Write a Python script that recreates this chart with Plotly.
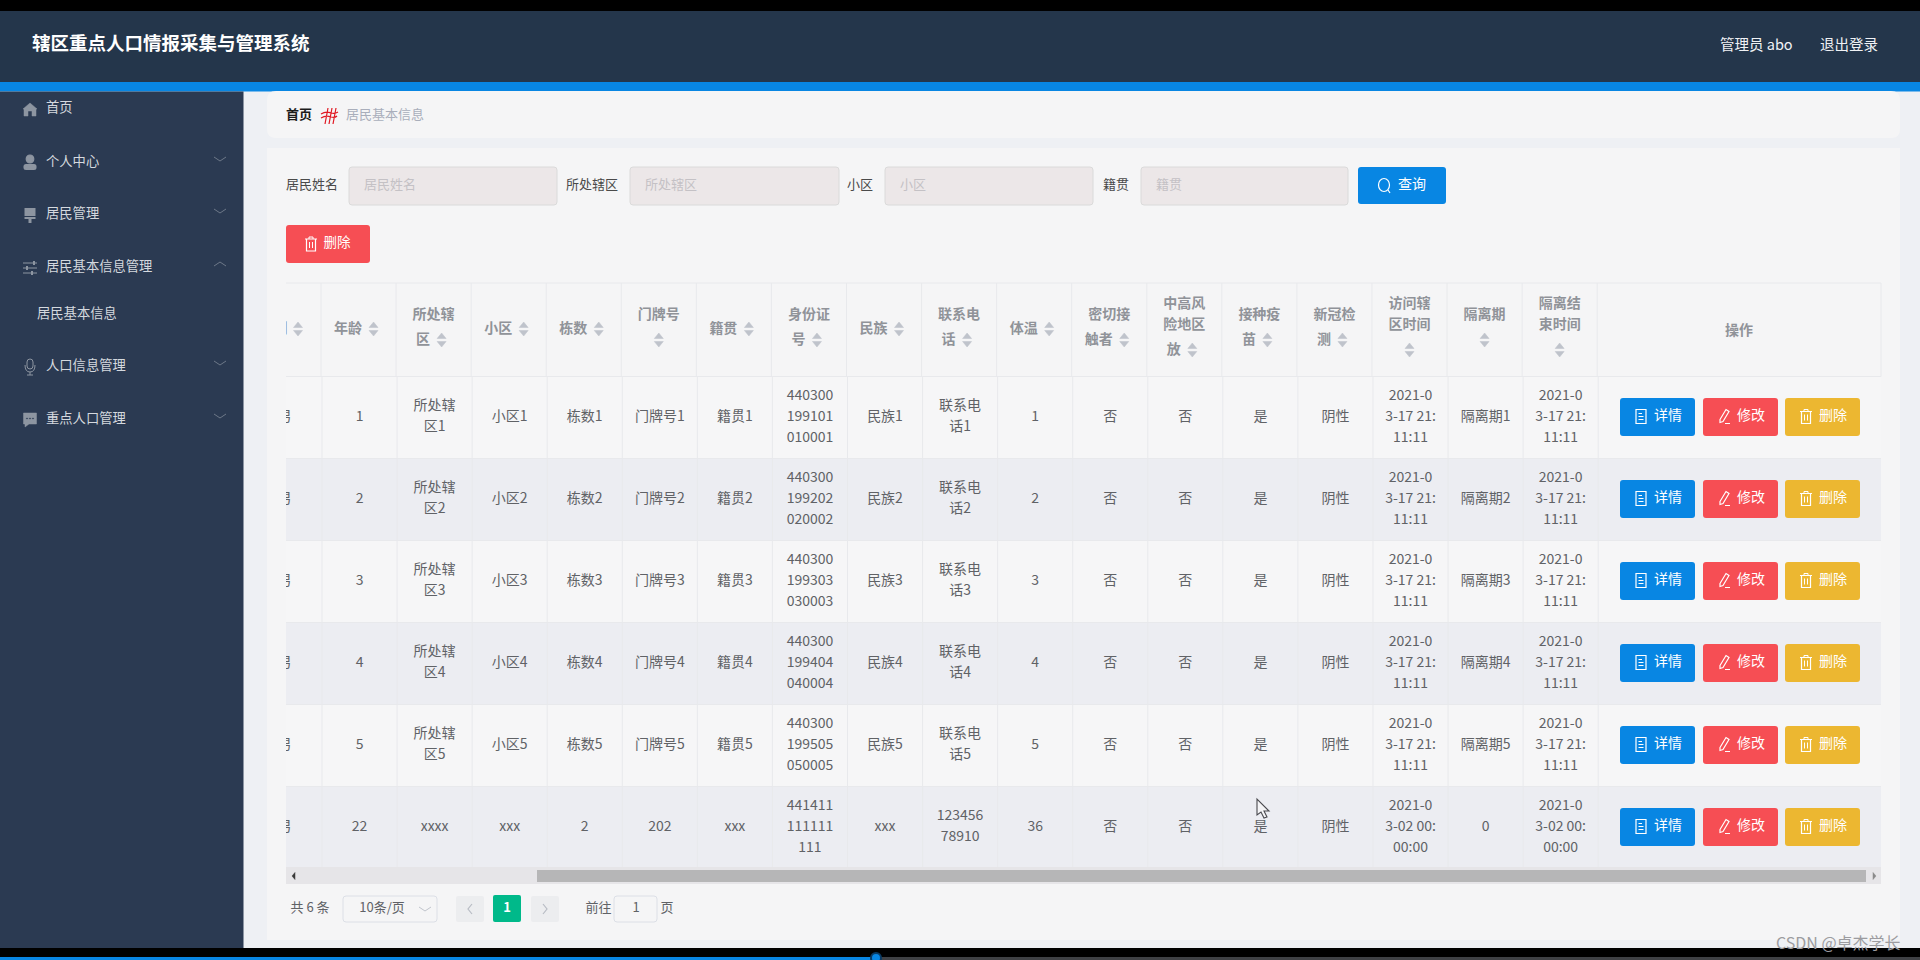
import plotly.graph_objects as go

# page text
app_title = "辖区重点人口情报采集与管理系统"
user_label = "管理员 abo"
logout_label = "退出登录"
nav_items = ["首页", "个人中心", "居民管理", "居民基本信息管理", "居民基本信息", "人口信息管理", "重点人口管理"]
nav_y = [109, 163, 215, 268, 315, 367, 420]
search_labels = ["居民姓名", "所处辖区", "小区", "籍贯"]

# table columns
table_headers = [
    ["年龄"], ["所处辖", "区"], ["小区"], ["栋数"], ["门牌号"], ["籍贯"], ["身份证", "号"], ["民族"],
    ["联系电", "话"], ["体温"], ["密切接", "触者"], ["中高风", "险地区", "放"], ["接种疫", "苗"],
    ["新冠检", "测"], ["访问辖", "区时间"], ["隔离期"], ["隔离结", "束时间"],
]
genders = ["男", "男", "男", "男", "男", "男"]
ages = ["1", "2", "3", "4", "5", "22"]
districts = ["所处辖\n区1", "所处辖\n区2", "所处辖\n区3", "所处辖\n区4", "所处辖\n区5", "xxxx"]
communities = ["小区1", "小区2", "小区3", "小区4", "小区5", "xxx"]
buildings = ["栋数1", "栋数2", "栋数3", "栋数4", "栋数5", "2"]
doors = ["门牌号1", "门牌号2", "门牌号3", "门牌号4", "门牌号5", "202"]
origins = ["籍贯1", "籍贯2", "籍贯3", "籍贯4", "籍贯5", "xxx"]
id_numbers = ["440300\n199101\n010001", "440300\n199202\n020002", "440300\n199303\n030003",
              "440300\n199404\n040004", "440300\n199505\n050005", "441411\n111111\n111"]
nations = ["民族1", "民族2", "民族3", "民族4", "民族5", "xxx"]
phones = ["联系电\n话1", "联系电\n话2", "联系电\n话3", "联系电\n话4", "联系电\n话5", "123456\n78910"]
temperatures = ["1", "2", "3", "4", "5", "36"]
contacts = ["否", "否", "否", "否", "否", "否"]
risks = ["否", "否", "否", "否", "否", "否"]
vaccines = ["是", "是", "是", "是", "是", "是"]
tests = ["阴性", "阴性", "阴性", "阴性", "阴性", "阴性"]
visit_times = ["2021-0\n3-17 21:\n11:11"] * 5 + ["2021-0\n3-02 00:\n00:00"]
quarantine = ["隔离期1", "隔离期2", "隔离期3", "隔离期4", "隔离期5", "0"]
end_times = ["2021-0\n3-17 21:\n11:11"] * 5 + ["2021-0\n3-02 00:\n00:00"]
columns = [ages, districts, communities, buildings, doors, origins, id_numbers, nations, phones,
           temperatures, contacts, risks, vaccines, tests, visit_times, quarantine, end_times]

FONT = "Noto Sans CJK SC"
BLUE = "#0886e3"
RED = "#f64e54"
YELLOW = "#ecb731"
CARD = "#f5f5f6"
PAGE = "#eef0f4"
STRIPE = "#ecedf2"
LINE = "#e8e9ec"
NAV_ICON = "#8d95a1"

shapes = []
texts = {}


def rect(x0, y0, x1, y1, fill, layer="below"):
    shapes.append(dict(type="rect", x0=x0, y0=y0, x1=x1, y1=y1, fillcolor=fill, line_width=0, layer=layer))


def round_rect(x0, y0, x1, y1, r, fill, border=None):
    p = (f"M{x0+r},{y0} L{x1-r},{y0} Q{x1},{y0} {x1},{y0+r} L{x1},{y1-r} Q{x1},{y1} {x1-r},{y1} "
         f"L{x0+r},{y1} Q{x0},{y1} {x0},{y1-r} L{x0},{y0+r} Q{x0},{y0} {x0+r},{y0} Z")
    shapes.append(dict(type="path", path=p, fillcolor=fill, layer="below",
                       line=dict(color=border or fill, width=1 if border else 0)))


def stroke(path, color, width=1.2, fill=None, layer="below"):
    shapes.append(dict(type="path", path=path, line=dict(color=color, width=width),
                       fillcolor=fill or "rgba(0,0,0,0)", layer=layer))


def oval(cx, cy, rx, ry, color, fill=None, width=1.2):
    shapes.append(dict(type="circle", x0=cx-rx, x1=cx+rx, y0=cy-ry, y1=cy+ry, layer="below",
                       line=dict(color=color, width=width), fillcolor=fill or "rgba(0,0,0,0)"))


def label(x, y, s, size=14, color="#606266", bold=False, anchor="middle center"):
    key = (size, color, bold, anchor)
    bucket = texts.setdefault(key, ([], [], []))
    bucket[0].append(x)
    bucket[1].append(y)
    bucket[2].append(s)


def chevron(x, y, color, up=False):
    d = -3 if up else 3
    stroke(f"M{x-6},{y-d/1.5} L{x},{y+d/1.5} L{x+6},{y-d/1.5}", color, 1)


def doc_icon(x, y, c="#ffffff"):
    stroke(f"M{x-5},{y-7} L{x+5},{y-7} L{x+5},{y+7} L{x-5},{y+7} Z", c)
    stroke(f"M{x-2.5},{y-3} L{x+1},{y-3} M{x-2.5},{y} L{x+2.5},{y} M{x-2.5},{y+3} L{x+2.5},{y+3}", c, 1)


def pen_icon(x, y, c="#ffffff"):
    stroke(f"M{x-4},{y+3} L{x+2},{y-7} L{x+5},{y-5} L{x-1},{y+5} L{x-4},{y+6} Z", c)
    stroke(f"M{x+1},{y+7} L{x+6},{y+7}", c, 1)


def trash_icon(x, y, c="#ffffff"):
    stroke(f"M{x-6},{y-5} L{x+6},{y-5} M{x-2},{y-5} L{x-2},{y-7} L{x+2},{y-7} L{x+2},{y-5}", c, 1)
    stroke(f"M{x-4.5},{y-5} L{x-4.5},{y+7} L{x+4.5},{y+7} L{x+4.5},{y-5}", c)
    stroke(f"M{x-1.5},{y-2} L{x-1.5},{y+4} M{x+1.5},{y-2} L{x+1.5},{y+4}", c, 1)


def sort_caret(x, y):
    c = "#bfc3cb"
    stroke(f"M{x},{y-7} L{x+4.5},{y-1.5} L{x-4.5},{y-1.5} Z", c, 0.5, c)
    stroke(f"M{x},{y+7} L{x+4.5},{y+1.5} L{x-4.5},{y+1.5} Z", c, 0.5, c)


# page frame
rect(0, 0, 1920, 960, PAGE)
rect(0, 0, 1920, 11, "#000000")
rect(0, 11, 1920, 82, "#24364b")
rect(0, 82, 1920, 91.5, BLUE)
rect(0, 91.5, 243.5, 948, "#2b3a52")
round_rect(267, 91, 1900, 138, 9, CARD)
rect(267, 148, 1900, 940, CARD)
rect(0, 948, 1920, 960, "#000000")
rect(0, 957, 876, 960, BLUE)
rect(876, 957, 1920, 960, "#3f4145")
oval(876, 958, 5, 5, "#0a3a63", BLUE, 2)

label(32, 45, f"<b>{app_title}</b>", 18.5, "#ffffff", anchor="middle right")
label(1720, 46, user_label, 14.5, "#f0f2f5", anchor="middle right")
label(1820, 46, logout_label, 14.5, "#f0f2f5", anchor="middle right")

# sidebar
for i, (item, y) in enumerate(zip(nav_items, nav_y)):
    label(37 if i == 4 else 46, y, item, 13.3, "#d5d9df", anchor="middle right")
    if i not in (0, 4):
        chevron(220, y - 4, "#6d7888", up=i == 3)
x = 30
y = nav_y[0] + 1
stroke(f"M{x-7},{y-1} L{x},{y-7} L{x+7},{y-1} L{x+6},{y-1} L{x+6},{y+6} L{x+2},{y+6} L{x+2},{y+1} "
       f"L{x-2},{y+1} L{x-2},{y+6} L{x-6},{y+6} L{x-6},{y-1} Z", NAV_ICON, 0.5, NAV_ICON)
y = nav_y[1] - 1
oval(x, y-3, 3.8, 4, NAV_ICON, NAV_ICON)
round_rect(x-6.5, y+2, x+6.5, y+8, 2.5, NAV_ICON)
y = nav_y[2]
rect(x-5.5, y-7, x+5.5, y+1, NAV_ICON)
rect(x-5.5, y+2, x+5.5, y+4, NAV_ICON)
rect(x-1.5, y+4, x+1.5, y+8, NAV_ICON)
y = nav_y[3]
for dy, kx in [(-5, 4), (0, -3), (5, 2)]:
    stroke(f"M{x-7},{y+dy} L{x+7},{y+dy}", NAV_ICON, 1)
    rect(x+kx-1, y+dy-2, x+kx+1, y+dy+2, NAV_ICON)
y = nav_y[5]
round_rect(x-3, y-8, x+3, y+2, 3, "rgba(0,0,0,0)", NAV_ICON)
stroke(f"M{x-5},{y-2} Q{x-5},{y+5} {x},{y+5} Q{x+5},{y+5} {x+5},{y-2} M{x},{y+5} L{x},{y+8} M{x-3},{y+8} L{x+3},{y+8}", NAV_ICON, 1)
y = nav_y[6]
stroke(f"M{x-6.5},{y-7} L{x+6.5},{y-7} L{x+6.5},{y+4} L{x-1},{y+4} L{x-5},{y+7} L{x-5},{y+4} L{x-6.5},{y+4} Z", NAV_ICON, 0.5, NAV_ICON)
for dx in (-3, 0, 3):
    oval(x+dx, y-1.5, 0.6, 0.6, "#2b3a52", "#2b3a52", 0.5)

# breadcrumb
label(286, 116, "<b>首页</b>", 13, "#1c1c1c", anchor="middle right")
label(346, 116, nav_items[4], 13, "#a9aebb", anchor="middle right")
stroke("M325,124 L328,108 M329,124 L332,108 M333,124 L336,108 "
       "M321,114 Q326,111 331,113 Q335,114 338,112 M321,118 Q326,115 331,117 Q335,118 337,116",
       "#e01822", 1.2)

# search row
label_x = [286, 566, 847, 1103]
input_x = [(349, 557), (630, 839), (885, 1093), (1141, 1348)]
for name, lx, (x0, x1) in zip(search_labels, label_x, input_x):
    label(lx, 186, name, 13, "#4a4a4a", anchor="middle right")
    round_rect(x0, 167, x1, 205, 3, "#ece7e8", "#dadada")
    label(x0 + 15, 186, name, 13, "#c4c1c5", anchor="middle right")
round_rect(1358, 167, 1446, 204, 3, BLUE)
oval(1384, 185, 5.5, 6.5, "#ffffff")
stroke("M1388,190 L1390,193", "#ffffff")
label(1412, 185, "查询", 14, "#ffffff")
round_rect(286, 225, 370, 263, 3, RED)
trash_icon(311, 244)
label(337, 244, "删除", 13.5, "#ffffff")

# table body
col_x = [321 + 75.07 * i for i in range(18)] + [1881]
head_top, head_bottom = 283, 376.5
row_h = 82
for r in range(6):
    top = head_bottom + r * row_h
    rect(286, top, 1881, top + row_h - (1 if r == 5 else 0), STRIPE if r % 2 else "#f6f6f7")
    shapes.append(dict(type="line", x0=286, x1=1881, y0=top, y1=top, line=dict(color=LINE, width=1), layer="below"))
    for cx in col_x[:-1]:
        shapes.append(dict(type="line", x0=cx+1, x1=cx+1, y0=top, y1=top+row_h, line=dict(color=LINE, width=1), layer="below"))
shapes.append(dict(type="line", x0=286, x1=1881, y0=head_top, y1=head_top, line=dict(color=LINE, width=1), layer="below"))
for cx in col_x:
    shapes.append(dict(type="line", x0=cx, x1=cx, y0=head_top, y1=head_bottom, line=dict(color=LINE, width=1), layer="below"))

# header cells
line_tops = {1: 329, 2: 315, 3: 304}
HCOLOR = "#909399"
label(280.5, 329, "<b>别</b>", 14, HCOLOR)
sort_caret(298, 329)
for i, lines in enumerate(table_headers):
    cx = (col_x[i] + col_x[i + 1]) / 2
    inline = len(lines[-1]) <= 2
    rows = len(lines) + (0 if inline else 1)
    y = line_tops[rows]
    for j, part in enumerate(lines):
        last = j == len(lines) - 1
        if last and inline:
            w = 14 * len(part)
            tx = cx - 10.5
            if rows > 1:
                y = line_tops[rows] + 21 * (rows - 2) + 25
            label(tx, y, f"<b>{part}</b>", 14, HCOLOR)
            sort_caret(tx + w / 2 + 11.5, y)
        else:
            label(cx, y, f"<b>{part}</b>", 14, HCOLOR)
            y += 21
    if not inline:
        sort_caret(cx, line_tops[rows] + 21 * (rows - 2) + 25)
label((col_x[17] + col_x[18]) / 2, 331, "<b>操作</b>", 14, HCOLOR)

# body cells
for r in range(6):
    cy = head_bottom + r * row_h + row_h / 2 - 0.5
    label(284.5, cy, genders[r])
    for i, col in enumerate(columns):
        cx = (col_x[i] + col_x[i + 1]) / 2 + 1
        parts = col[r].split("\n")
        for j, part in enumerate(parts):
            label(cx, cy + (j - (len(parts) - 1) / 2) * 21, part)
    for x0, c, name, icon in [(1620, BLUE, "详情", doc_icon), (1703, RED, "修改", pen_icon), (1785, YELLOW, "删除", trash_icon)]:
        round_rect(x0, cy - 19, x0 + 75, cy + 19, 3, c)
        icon(x0 + 21, cy - 0.5)
        label(x0 + 48, cy - 1, name, 14, "#ffffff")

# clip the scrolled column
rect(267, 283, 286, 867, CARD, layer="above")

# scrollbar
rect(286, 867, 1881, 884, "#e6e5e8")
rect(537, 870, 1866, 882, "#b6b6b7")
stroke("M292,876 L295,872.5 L295,879.5 Z", "#3a3a3a", 0.5, "#3a3a3a")
stroke("M1876,876 L1873,872.5 L1873,879.5 Z", "#8a8a8a", 0.5, "#8a8a8a")

# pagination
label(310, 909, "共 6 条", 13, "#606266")
round_rect(343, 896, 437, 922, 3, CARD, "#dcdfe6")
label(382, 909, "10条/页", 13, "#606266")
chevron(425, 909, "#c0c4cc")
round_rect(456, 896, 484, 922, 2, "#ecedef")
stroke("M472,904 L468,909 L472,914", "#b8bcc4", 1.2)
round_rect(493, 895, 521, 922, 2, "#00b98a")
label(507, 909, "<b>1</b>", 13, "#ffffff")
round_rect(531, 896, 559, 922, 2, "#ecedef")
stroke("M543,904 L547,909 L543,914", "#b8bcc4", 1.2)
label(598.5, 909, "前往", 13, "#606266")
round_rect(614, 896, 657, 922, 3, CARD, "#dcdfe6")
label(636, 909, "1", 13, "#606266")
label(667, 909, "页", 13, "#606266")

# mouse pointer left in the capture
stroke("M1257,799 L1257,815 L1261,812 L1264,818 L1267,817 L1264,811 L1269,811 Z", "#4a4a4f", 1.1, "#f4f4f6", layer="above")

fig = go.Figure()
for (size, color, bold, anchor), (xs, ys, strs) in texts.items():
    fig.add_trace(go.Scatter(x=xs, y=ys, text=strs, mode="text", textposition=anchor, hoverinfo="skip",
                             textfont=dict(family=FONT, size=size, color=color), cliponaxis=False, showlegend=False))

fig.update_layout(
    width=1920, height=960,
    margin=dict(l=0, r=0, t=0, b=0),
    paper_bgcolor=PAGE, plot_bgcolor=PAGE,
    shapes=shapes,
    annotations=[dict(x=1903, y=942, xref="x", yref="y", xanchor="right", yanchor="middle", showarrow=False,
                      text="CSDN @卓杰学长", font=dict(family=FONT, size=16, color="#9c9ca0"))],
    xaxis=dict(range=[0, 1920], visible=False, fixedrange=True),
    yaxis=dict(range=[960, 0], visible=False, fixedrange=True),
)

fig.write_html("out.html", config=dict(displayModeBar=False),
               post_script="document.body.style.margin='0';document.documentElement.style.overflow='hidden';")
